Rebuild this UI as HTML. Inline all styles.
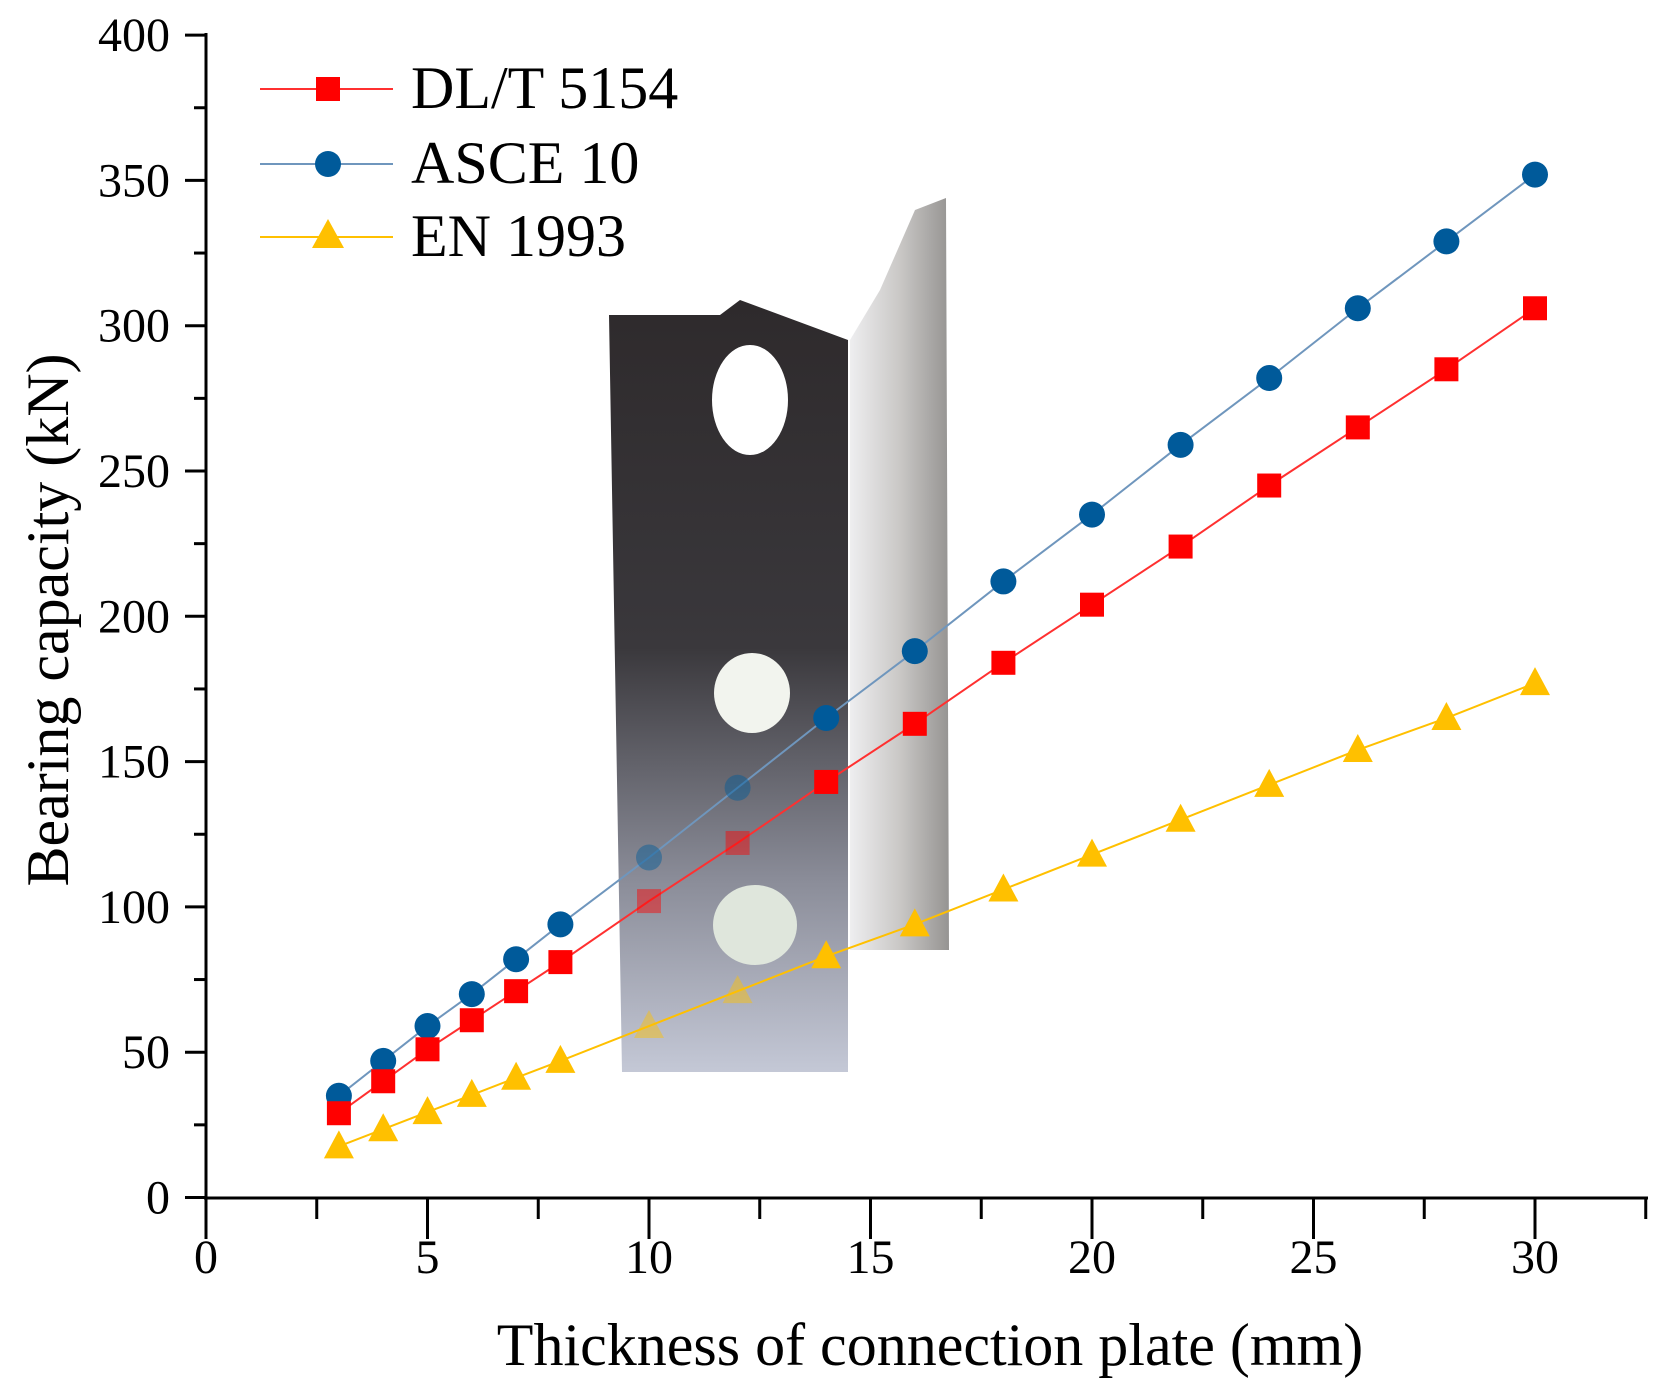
<!DOCTYPE html>
<html><head><meta charset="utf-8"><style>
html,body{margin:0;padding:0;background:#fff;}
svg{display:block;}
text{font-family:"Liberation Serif",serif;fill:#000;}
</style></head><body>
<svg width="1667" height="1397" viewBox="0 0 1667 1397" xmlns="http://www.w3.org/2000/svg">
<defs>
<linearGradient id="pl" x1="0" y1="0" x2="0" y2="1">
<stop offset="0" stop-color="#2e2a2c"/><stop offset="0.45" stop-color="#3a383c"/><stop offset="0.75" stop-color="#8a8c98"/><stop offset="1" stop-color="#c4c8d6"/>
</linearGradient>
<linearGradient id="fl" x1="0" y1="0" x2="1" y2="0">
<stop offset="0" stop-color="#ececee"/><stop offset="0.5" stop-color="#c4c2c0"/><stop offset="1" stop-color="#8a8886"/>
</linearGradient>
</defs>
<polygon points="850,340 880,290 915,210 946,198 949,950 850,950" fill="url(#fl)" opacity="0.9"/>
<polygon points="609,315 720,315 740,300 848,340 848,1072 622,1072" fill="url(#pl)"/>
<ellipse cx="750" cy="400" rx="38" ry="55" fill="#fff"/>
<ellipse cx="752" cy="693" rx="38" ry="40" fill="#f2f4ee"/>
<ellipse cx="755" cy="925" rx="42" ry="40" fill="#dfe6dc"/>
<g stroke="#000" stroke-width="3" fill="none">
<line x1="206" y1="33" x2="206" y2="1199"/>
<line x1="204" y1="1198" x2="1648" y2="1198"/>
</g>
<g stroke="#000" stroke-width="3" id="ticks"></g>
<g id="labels"></g>
<text x="930" y="1365" font-size="60" text-anchor="middle">Thickness of connection plate (mm)</text>
<text transform="translate(68,620) rotate(-90)" font-size="60" text-anchor="middle">Bearing capacity (kN)</text>
<g id="series"></g>
<line x1="260" y1="89" x2="393" y2="89" stroke="#ff3030" stroke-width="2"/>
<rect x="316" y="77" width="24" height="24" fill="#f00"/>
<text x="411" y="108" font-size="60">DL/T 5154</text>
<line x1="260" y1="164" x2="393" y2="164" stroke="#6f96bd" stroke-width="2"/>
<circle cx="328" cy="164" r="13" fill="#005a9a"/>
<text x="411" y="183" font-size="60">ASCE 10</text>
<line x1="260" y1="237" x2="393" y2="237" stroke="#ffc000" stroke-width="2"/>
<polygon points="328,219 344,248 312,248" fill="#ffc000"/>
<text x="411" y="256" font-size="60">EN 1993</text>
<script>
var ns="http://www.w3.org/2000/svg";
function X(v){return 206+v*44.3;}
function Y(v){return 1197.5-v*2.906;}
function el(t,a,p){var e=document.createElementNS(ns,t);for(var k in a)e.setAttribute(k,a[k]);p.appendChild(e);return e;}
var tk=document.getElementById('ticks'),lb=document.getElementById('labels');
for(var v=0;v<=400;v+=25){var y=Y(v);el('line',{x1:v%50?194:185,y1:y,x2:206,y2:y},tk);
 if(v%50==0){var t=el('text',{x:170,y:y+16,'font-size':48,'text-anchor':'end'},lb);t.textContent=v;}}
for(var v=0;v<=32.5;v+=2.5){var x=X(v);el('line',{x1:x,y1:1198,x2:x,y2:v%5?1219:1239},tk);
 if(v%5==0){var t=el('text',{x:x,y:1273,'font-size':48,'text-anchor':'middle'},lb);t.textContent=v;}}
var xs=[3,4,5,6,7,8,10,12,14,16,18,20,22,24,26,28,30];
var dl=[29,40,51,61,71,81,102,122,143,163,184,204,224,245,265,285,306];
var as=[35,47,59,70,82,94,117,141,165,188,212,235,259,282,306,329,352];
var en=[17.6,23.5,29.4,35.3,41.2,47,59,71,83,94,106,118,130,142,154,165,177];
var s=document.getElementById('series');
function line(d,c){var p=xs.map(function(x,i){return X(x)+','+Y(d[i]);}).join(' ');el('polyline',{points:p,fill:'none',stroke:c,'stroke-width':2},s);}
line(as,'#6f96bd');line(dl,'#ff3030');line(en,'#ffc000');
xs.forEach(function(x,i){var op=(x==10||x==12)?0.45:1;
 el('circle',{cx:X(x),cy:Y(as[i]),r:13,fill:'#005a9a',opacity:op},s);
 el('rect',{x:X(x)-12,y:Y(dl[i])-12,width:24,height:24,fill:'#f00',opacity:op},s);
 var cx=X(x),cy=Y(en[i]);el('polygon',{points:cx+','+(cy-16)+' '+(cx+15)+','+(cy+12)+' '+(cx-15)+','+(cy+12),fill:'#ffc000',opacity:op},s);});
</script>
</svg>
</body></html>
